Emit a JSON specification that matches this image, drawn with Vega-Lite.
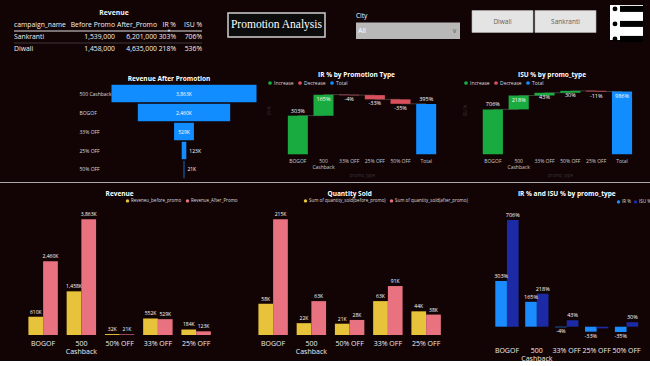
{
"$schema": "https://vega.github.io/schema/vega-lite/v6.json",
"background": "#120305",
"padding": 0,
"spacing": 0,
"resolve": {"scale": {"color": "independent", "xOffset": "independent"}, "legend": {"color": "independent"}},
"config": {
  "view": {"stroke": null},
  "font": "Open Sans",
  "concat": {"spacing": 0},
  "axis": {"grid": false},
  "title": {"color": "#ffffff", "fontSize": 6.5, "fontWeight": "bold", "font": "Open Sans"},
  "locale": {"number": {"decimal": ".", "thousands": ",", "grouping": [3], "currency": ["", "K"], "minus": "-"}}
},
"datasets": {
  "tbl": [
    {"campaign_name": "Sankranti", "before": 1539000, "after": 6201000, "ir": 3.03, "isu": 7.06},
    {"campaign_name": "Diwali", "before": 1458000, "after": 4635000, "ir": 2.18, "isu": 5.36}
  ],
  "funnel": [
    {"promo": "500 Cashback", "rev": 3863},
    {"promo": "BOGOF", "rev": 2460},
    {"promo": "33% OFF", "rev": 529},
    {"promo": "25% OFF", "rev": 123},
    {"promo": "50% OFF", "rev": 21}
  ],
  "irwf": [
    {"promo": "BOGOF", "start": 0, "end": 3.03, "amount": 3.03, "type": "Increase", "next": "500 Cashback"},
    {"promo": "500 Cashback", "start": 3.03, "end": 4.68, "amount": 1.65, "type": "Increase", "next": "33% OFF"},
    {"promo": "33% OFF", "start": 4.68, "end": 4.64, "amount": -0.04, "type": "Decrease", "next": "25% OFF"},
    {"promo": "25% OFF", "start": 4.64, "end": 4.31, "amount": -0.33, "type": "Decrease", "next": "50% OFF"},
    {"promo": "50% OFF", "start": 4.31, "end": 3.96, "amount": -0.35, "type": "Decrease", "next": "Total"},
    {"promo": "Total", "start": 0, "end": 3.95, "amount": 3.95, "type": "Total"}
  ],
  "isuwf": [
    {"promo": "BOGOF", "start": 0, "end": 7.06, "amount": 7.06, "type": "Increase", "next": "500 Cashback"},
    {"promo": "500 Cashback", "start": 7.06, "end": 9.24, "amount": 2.18, "type": "Increase", "next": "33% OFF"},
    {"promo": "33% OFF", "start": 9.24, "end": 9.67, "amount": 0.43, "type": "Increase", "next": "50% OFF"},
    {"promo": "50% OFF", "start": 9.67, "end": 9.97, "amount": 0.30, "type": "Increase", "next": "25% OFF"},
    {"promo": "25% OFF", "start": 9.97, "end": 9.86, "amount": -0.11, "type": "Decrease", "next": "Total"},
    {"promo": "Total", "start": 0, "end": 9.86, "amount": 9.86, "type": "Total"}
  ],
  "rev": [
    {"promo": "BOGOF", "series": "Reveneu_before_promo", "value": 610},
    {"promo": "BOGOF", "series": "Revenue_After_Promo", "value": 2460},
    {"promo": "500 Cashback", "series": "Reveneu_before_promo", "value": 1458},
    {"promo": "500 Cashback", "series": "Revenue_After_Promo", "value": 3863},
    {"promo": "50% OFF", "series": "Reveneu_before_promo", "value": 32},
    {"promo": "50% OFF", "series": "Revenue_After_Promo", "value": 21},
    {"promo": "33% OFF", "series": "Reveneu_before_promo", "value": 552},
    {"promo": "33% OFF", "series": "Revenue_After_Promo", "value": 529},
    {"promo": "25% OFF", "series": "Reveneu_before_promo", "value": 184},
    {"promo": "25% OFF", "series": "Revenue_After_Promo", "value": 123}
  ],
  "qty": [
    {"promo": "BOGOF", "series": "Sum of quantity_sold(before_promo)", "value": 58},
    {"promo": "BOGOF", "series": "Sum of quantity_sold(after_promo)", "value": 215},
    {"promo": "500 Cashback", "series": "Sum of quantity_sold(before_promo)", "value": 22},
    {"promo": "500 Cashback", "series": "Sum of quantity_sold(after_promo)", "value": 63},
    {"promo": "50% OFF", "series": "Sum of quantity_sold(before_promo)", "value": 21},
    {"promo": "50% OFF", "series": "Sum of quantity_sold(after_promo)", "value": 28},
    {"promo": "33% OFF", "series": "Sum of quantity_sold(before_promo)", "value": 63},
    {"promo": "33% OFF", "series": "Sum of quantity_sold(after_promo)", "value": 91},
    {"promo": "25% OFF", "series": "Sum of quantity_sold(before_promo)", "value": 44},
    {"promo": "25% OFF", "series": "Sum of quantity_sold(after_promo)", "value": 38}
  ],
  "pct": [
    {"promo": "BOGOF", "series": "IR %", "value": 3.03},
    {"promo": "BOGOF", "series": "ISU %", "value": 7.06},
    {"promo": "500 Cashback", "series": "IR %", "value": 1.65},
    {"promo": "500 Cashback", "series": "ISU %", "value": 2.18},
    {"promo": "33% OFF", "series": "IR %", "value": -0.04},
    {"promo": "33% OFF", "series": "ISU %", "value": 0.43},
    {"promo": "25% OFF", "series": "IR %", "value": -0.33},
    {"promo": "25% OFF", "series": "ISU %", "value": -0.11},
    {"promo": "50% OFF", "series": "IR %", "value": -0.35},
    {"promo": "50% OFF", "series": "ISU %", "value": 0.30}
  ],
  "icon": [{"i": 1}, {"i": 2}, {"i": 3}],
  "buttons": [{"name": "Diwali"}, {"name": "Sankranti"}]
},
"vconcat": [
  {
    "spacing": 0, "bounds": "flush",
    "hconcat": [
      {"width": 14, "height": 66, "data": {"values": []}, "mark": "point"},
      {
        "width": 54, "height": 66,
        "layer": [
          {"data": {"values": [{}]}, "mark": {"type": "text", "align": "left", "fontSize": 6.8, "color": "#f2f2f2"},
           "encoding": {"x": {"value": 0}, "y": {"datum": "header", "type": "nominal", "scale": {"type": "band", "domain": ["Revenue", "header", "Sankranti", "Diwali"], "paddingInner": 0, "paddingOuter": 0.75, "align": 0.389}, "axis": null}, "text": {"value": "campaign_name"}}},
          {"data": {"name": "tbl"}, "mark": {"type": "text", "align": "left", "fontSize": 6.8, "color": "#f2f2f2"},
           "encoding": {"x": {"value": 0}, "y": {"field": "campaign_name", "type": "nominal", "scale": {"type": "band", "domain": ["Revenue", "header", "Sankranti", "Diwali"], "paddingInner": 0, "paddingOuter": 0.75, "align": 0.389}, "axis": null}, "text": {"field": "campaign_name"}}},
          {"data": {"values": [{}]}, "mark": {"type": "rule", "color": "#e0e0e0", "strokeWidth": 1},
           "encoding": {"y": {"datum": "Sankranti", "bandPosition": 0, "type": "nominal", "scale": {"type": "band", "domain": ["Revenue", "header", "Sankranti", "Diwali"], "paddingInner": 0, "paddingOuter": 0.75, "align": 0.389}, "axis": null}}},
          {"data": {"values": [{}]}, "mark": {"type": "rule", "color": "#5a5a5a", "strokeWidth": 0.6},
           "encoding": {"y": {"datum": "Diwali", "bandPosition": 0, "type": "nominal", "scale": {"type": "band", "domain": ["Revenue", "header", "Sankranti", "Diwali"], "paddingInner": 0, "paddingOuter": 0.75, "align": 0.389}, "axis": null}}}
        ]
      },
      {
        "width": 47, "height": 66,
        "layer": [
          {"data": {"values": [{}]}, "mark": {"type": "text", "align": "center", "fontSize": 6.8, "fontWeight": "bold", "color": "#f2f2f2", "dx": -1},
           "encoding": {"x": {"value": "width"}, "y": {"datum": "Revenue", "type": "nominal", "scale": {"type": "band", "domain": ["Revenue", "header", "Sankranti", "Diwali"], "paddingInner": 0, "paddingOuter": 0.75, "align": 0.389}, "axis": null}, "text": {"value": "Revenue"}}},
          {"data": {"values": [{}]}, "mark": {"type": "text", "align": "right", "fontSize": 6.8, "color": "#f2f2f2"},
           "encoding": {"x": {"value": "width"}, "y": {"datum": "header", "type": "nominal", "scale": {"type": "band", "domain": ["Revenue", "header", "Sankranti", "Diwali"], "paddingInner": 0, "paddingOuter": 0.75, "align": 0.389}, "axis": null}, "text": {"value": "Before Promo"}}},
          {"data": {"name": "tbl"}, "mark": {"type": "text", "align": "right", "fontSize": 6.8, "color": "#f2f2f2"},
           "encoding": {"x": {"value": "width"}, "y": {"field": "campaign_name", "type": "nominal", "scale": {"type": "band", "domain": ["Revenue", "header", "Sankranti", "Diwali"], "paddingInner": 0, "paddingOuter": 0.75, "align": 0.389}, "axis": null}, "text": {"field": "before", "format": ",d"}}},
          {"data": {"values": [{}]}, "mark": {"type": "rule", "color": "#e0e0e0", "strokeWidth": 1},
           "encoding": {"y": {"datum": "Sankranti", "bandPosition": 0, "type": "nominal", "scale": {"type": "band", "domain": ["Revenue", "header", "Sankranti", "Diwali"], "paddingInner": 0, "paddingOuter": 0.75, "align": 0.389}, "axis": null}}},
          {"data": {"values": [{}]}, "mark": {"type": "rule", "color": "#5a5a5a", "strokeWidth": 0.6},
           "encoding": {"y": {"datum": "Diwali", "bandPosition": 0, "type": "nominal", "scale": {"type": "band", "domain": ["Revenue", "header", "Sankranti", "Diwali"], "paddingInner": 0, "paddingOuter": 0.75, "align": 0.389}, "axis": null}}}
        ]
      },
      {
        "width": 42, "height": 66,
        "layer": [
          {"data": {"values": [{}]}, "mark": {"type": "text", "align": "right", "fontSize": 6.8, "color": "#f2f2f2"},
           "encoding": {"x": {"value": "width"}, "y": {"datum": "header", "type": "nominal", "scale": {"type": "band", "domain": ["Revenue", "header", "Sankranti", "Diwali"], "paddingInner": 0, "paddingOuter": 0.75, "align": 0.389}, "axis": null}, "text": {"value": "After_Promo"}}},
          {"data": {"name": "tbl"}, "mark": {"type": "text", "align": "right", "fontSize": 6.8, "color": "#f2f2f2"},
           "encoding": {"x": {"value": "width"}, "y": {"field": "campaign_name", "type": "nominal", "scale": {"type": "band", "domain": ["Revenue", "header", "Sankranti", "Diwali"], "paddingInner": 0, "paddingOuter": 0.75, "align": 0.389}, "axis": null}, "text": {"field": "after", "format": ",d"}}},
          {"data": {"values": [{}]}, "mark": {"type": "rule", "color": "#e0e0e0", "strokeWidth": 1},
           "encoding": {"y": {"datum": "Sankranti", "bandPosition": 0, "type": "nominal", "scale": {"type": "band", "domain": ["Revenue", "header", "Sankranti", "Diwali"], "paddingInner": 0, "paddingOuter": 0.75, "align": 0.389}, "axis": null}}},
          {"data": {"values": [{}]}, "mark": {"type": "rule", "color": "#5a5a5a", "strokeWidth": 0.6},
           "encoding": {"y": {"datum": "Diwali", "bandPosition": 0, "type": "nominal", "scale": {"type": "band", "domain": ["Revenue", "header", "Sankranti", "Diwali"], "paddingInner": 0, "paddingOuter": 0.75, "align": 0.389}, "axis": null}}}
        ]
      },
      {
        "width": 19, "height": 66,
        "layer": [
          {"data": {"values": [{}]}, "mark": {"type": "text", "align": "right", "fontSize": 6.8, "color": "#f2f2f2"},
           "encoding": {"x": {"value": "width"}, "y": {"datum": "header", "type": "nominal", "scale": {"type": "band", "domain": ["Revenue", "header", "Sankranti", "Diwali"], "paddingInner": 0, "paddingOuter": 0.75, "align": 0.389}, "axis": null}, "text": {"value": "IR %"}}},
          {"data": {"values": [{}]}, "mark": {"type": "text", "align": "center", "fontSize": 4, "color": "#f2f2f2", "dy": 5.5, "dx": -7},
           "encoding": {"x": {"value": "width"}, "y": {"datum": "header", "type": "nominal", "scale": {"type": "band", "domain": ["Revenue", "header", "Sankranti", "Diwali"], "paddingInner": 0, "paddingOuter": 0.75, "align": 0.389}, "axis": null}, "text": {"value": "▼"}}},
          {"data": {"name": "tbl"}, "mark": {"type": "text", "align": "right", "fontSize": 6.8, "color": "#f2f2f2"},
           "encoding": {"x": {"value": "width"}, "y": {"field": "campaign_name", "type": "nominal", "scale": {"type": "band", "domain": ["Revenue", "header", "Sankranti", "Diwali"], "paddingInner": 0, "paddingOuter": 0.75, "align": 0.389}, "axis": null}, "text": {"field": "ir", "format": ".0%"}}},
          {"data": {"values": [{}]}, "mark": {"type": "rule", "color": "#e0e0e0", "strokeWidth": 1},
           "encoding": {"y": {"datum": "Sankranti", "bandPosition": 0, "type": "nominal", "scale": {"type": "band", "domain": ["Revenue", "header", "Sankranti", "Diwali"], "paddingInner": 0, "paddingOuter": 0.75, "align": 0.389}, "axis": null}}},
          {"data": {"values": [{}]}, "mark": {"type": "rule", "color": "#5a5a5a", "strokeWidth": 0.6},
           "encoding": {"y": {"datum": "Diwali", "bandPosition": 0, "type": "nominal", "scale": {"type": "band", "domain": ["Revenue", "header", "Sankranti", "Diwali"], "paddingInner": 0, "paddingOuter": 0.75, "align": 0.389}, "axis": null}}}
        ]
      },
      {
        "width": 26, "height": 66,
        "layer": [
          {"data": {"values": [{}]}, "mark": {"type": "text", "align": "right", "fontSize": 6.8, "color": "#f2f2f2"},
           "encoding": {"x": {"value": "width"}, "y": {"datum": "header", "type": "nominal", "scale": {"type": "band", "domain": ["Revenue", "header", "Sankranti", "Diwali"], "paddingInner": 0, "paddingOuter": 0.75, "align": 0.389}, "axis": null}, "text": {"value": "ISU %"}}},
          {"data": {"name": "tbl"}, "mark": {"type": "text", "align": "right", "fontSize": 6.8, "color": "#f2f2f2"},
           "encoding": {"x": {"value": "width"}, "y": {"field": "campaign_name", "type": "nominal", "scale": {"type": "band", "domain": ["Revenue", "header", "Sankranti", "Diwali"], "paddingInner": 0, "paddingOuter": 0.75, "align": 0.389}, "axis": null}, "text": {"field": "isu", "format": ".0%"}}},
          {"data": {"values": [{}]}, "mark": {"type": "rule", "color": "#e0e0e0", "strokeWidth": 1},
           "encoding": {"y": {"datum": "Sankranti", "bandPosition": 0, "type": "nominal", "scale": {"type": "band", "domain": ["Revenue", "header", "Sankranti", "Diwali"], "paddingInner": 0, "paddingOuter": 0.75, "align": 0.389}, "axis": null}}},
          {"data": {"values": [{}]}, "mark": {"type": "rule", "color": "#5a5a5a", "strokeWidth": 0.6},
           "encoding": {"y": {"datum": "Diwali", "bandPosition": 0, "type": "nominal", "scale": {"type": "band", "domain": ["Revenue", "header", "Sankranti", "Diwali"], "paddingInner": 0, "paddingOuter": 0.75, "align": 0.389}, "axis": null}}}
        ]
      },
      {"width": 26, "height": 66, "data": {"values": []}, "mark": "point"},
      {
        "width": 97, "height": 66,
        "data": {"values": [{}]},
        "encoding": {"y": {"datum": "box", "type": "nominal", "scale": {"type": "band", "domain": ["box"], "paddingInner": 0, "paddingOuter": 0.875, "align": 0.3095}, "axis": null}},
        "layer": [
          {"mark": {"type": "bar", "color": "#0c0c0c", "stroke": "#cfcfcf", "strokeWidth": 1.5}},
          {"mark": {"type": "text", "font": "Liberation Serif", "fontSize": 11.5, "color": "#ffffff"}, "encoding": {"text": {"value": "Promotion Analysis"}}}
        ]
      },
      {"width": 31, "height": 66, "data": {"values": []}, "mark": "point"},
      {
        "width": 104, "height": 66,
        "data": {"values": [{}]},
        "layer": [
          {"mark": {"type": "bar", "color": "#b8b8b8"},
           "encoding": {"y": {"datum": "dd", "type": "nominal", "scale": {"type": "band", "domain": ["City", "dd"], "paddingInner": 0, "paddingOuter": 1.357, "align": 0.184}, "axis": null}}},
          {"mark": {"type": "text", "align": "left", "fontSize": 6.5, "color": "#ffffff", "dy": 2},
           "encoding": {"x": {"value": 0}, "y": {"datum": "City", "type": "nominal"}, "text": {"value": "City"}}},
          {"mark": {"type": "text", "align": "left", "dx": 2, "fontSize": 7, "color": "#ffffff"},
           "encoding": {"x": {"value": 0}, "y": {"datum": "dd", "type": "nominal"}, "text": {"value": "All"}}},
          {"mark": {"type": "text", "align": "right", "dx": -3, "fontSize": 7, "color": "#6a6a6a"},
           "encoding": {"x": {"value": "width"}, "y": {"datum": "dd", "type": "nominal"}, "text": {"value": "∨"}}}
        ]
      },
      {"width": 12, "height": 66, "data": {"values": []}, "mark": "point"},
      {
        "width": 124, "height": 66,
        "data": {"name": "buttons"},
        "encoding": {
          "x": {"field": "name", "type": "nominal", "sort": null, "scale": {"type": "band", "paddingInner": 0.03, "paddingOuter": 0}, "axis": null},
          "y": {"datum": "btn", "type": "nominal", "scale": {"type": "band", "domain": ["btn"], "paddingInner": 0, "paddingOuter": 1.15, "align": 0.239}, "axis": null}
        },
        "layer": [
          {"mark": {"type": "bar", "color": "#e4e4e4", "stroke": "#b5b5b5", "strokeWidth": 0.6}},
          {"mark": {"type": "text", "fontSize": 6.5, "color": "#5c5c5c"}, "encoding": {"text": {"field": "name"}}}
        ]
      },
      {"width": 14, "height": 66, "data": {"values": []}, "mark": "point"},
      {
        "width": 10, "height": 66,
        "layer": [
          {"data": {"values": [{}]}, "mark": {"type": "bar", "color": "#ffffff"},
           "encoding": {"y": {"datum": "bg", "type": "nominal", "scale": {"type": "band", "domain": ["bg"], "paddingInner": 0, "paddingOuter": 0.443, "align": 0.161}, "axis": null}}},
          {"data": {"name": "icon"}, "mark": {"type": "point", "filled": true, "color": "#000000", "size": 24, "opacity": 1},
           "encoding": {"x": {"datum": "d", "type": "nominal", "axis": null}, "y": {"field": "i", "type": "ordinal", "scale": {"type": "band", "paddingInner": 0.6, "paddingOuter": 1.8, "align": 0.197}, "axis": null}}}
        ],
        "resolve": {"scale": {"y": "independent"}}
      },
      {
        "width": 23, "height": 66,
        "layer": [
          {"data": {"values": [{}]}, "mark": {"type": "bar", "color": "#ffffff"},
           "encoding": {"y": {"datum": "bg", "type": "nominal", "scale": {"type": "band", "domain": ["bg"], "paddingInner": 0, "paddingOuter": 0.443, "align": 0.161}, "axis": null}}},
          {"data": {"name": "icon"}, "mark": {"type": "bar", "color": "#000000"},
           "encoding": {"y": {"field": "i", "type": "ordinal", "scale": {"type": "band", "paddingInner": 0.6, "paddingOuter": 1.8, "align": 0.197}, "axis": null}}}
        ],
        "resolve": {"scale": {"y": "independent"}}
      }
    ]
  },
  {
    "spacing": 0, "bounds": "flush",
    "resolve": {"scale": {"color": "independent"}, "legend": {"color": "independent"}},
    "hconcat": [
      {"width": 106, "height": 116, "data": {"values": []}, "mark": "point"},
      {
        "width": 156, "height": 113,
        "title": {"text": "Revenue After Promotion", "dx": -15, "offset": -16},
        "data": {"name": "funnel"},
        "transform": [{"stack": "rev", "groupby": ["promo"], "offset": "center", "as": ["x0", "x1"]}],
        "encoding": {"y": {"field": "promo", "type": "nominal", "sort": null, "scale": {"paddingInner": 0.08, "paddingOuter": 0.514, "align": 0.961},
          "axis": {"title": null, "domain": false, "ticks": false, "labelAlign": "left", "labelPadding": 27, "labelFontSize": 5, "labelColor": "#dddddd"}}},
        "layer": [
          {"mark": {"type": "bar", "color": "#118dff"},
           "encoding": {"x": {"field": "x0", "type": "quantitative", "scale": {"domain": [-146, 4009], "nice": false, "zero": false}, "axis": null}, "x2": {"field": "x1"}}},
          {"transform": [{"filter": "datum.rev >= 300"}],
           "mark": {"type": "text", "color": "#ffffff", "fontSize": 5},
           "encoding": {"x": {"datum": 1931.5, "type": "quantitative"}, "text": {"field": "rev", "format": "$,.0f"}}},
          {"transform": [{"filter": "datum.rev < 300"}],
           "mark": {"type": "text", "color": "#ffffff", "fontSize": 5, "align": "left", "dx": 3},
           "encoding": {"x": {"field": "x1", "type": "quantitative"}, "text": {"field": "rev", "format": "$,.0f"}}}
        ]
      },
      {
        "width": 177, "height": 88.3,
        "title": {"text": "IR % by Promotion Type", "dx": 6, "offset": -12},
        "data": {"name": "irwf"},
        "encoding": {"x": {"field": "promo", "type": "nominal", "sort": null, "scale": {"paddingInner": 0.22, "paddingOuter": 0.5576, "align": 0.902},
          "axis": {"title": "promo_type", "titleColor": "#3a3a3a", "titleFontSize": 4.5, "titleFontWeight": "normal", "titlePadding": 3, "titleX": 100, "domain": false, "ticks": false, "labelAngle": 0, "labelFontSize": 5, "labelColor": "#cccccc", "labelPadding": 4, "labelLineHeight": 6,
            "labelExpr": "datum.label == '500 Cashback' ? ['500', 'Cashback'] : datum.label"}}},
        "layer": [
          {"transform": [{"filter": "isValid(datum.next)"}],
           "mark": {"type": "rule", "color": "#555555", "strokeWidth": 0.7},
           "encoding": {"x2": {"field": "next"}, "y": {"field": "end", "type": "quantitative"}}},
          {"mark": {"type": "bar"},
           "encoding": {
             "y": {"field": "start", "type": "quantitative", "scale": {"domain": [0, 6.925], "nice": false},
               "axis": {"title": "IR %", "labels": false, "ticks": false, "domain": false, "titleColor": "#3a3a3a", "titleFontSize": 4.5, "titleFontWeight": "normal", "titlePadding": -9}},
             "y2": {"field": "end"},
             "color": {"field": "type", "type": "nominal", "scale": {"domain": ["Increase", "Decrease", "Total"], "range": ["#1aab40", "#d9505c", "#118dff"]},
               "legend": {"title": null, "orient": "none", "legendX": 5, "legendY": 14, "direction": "horizontal", "symbolType": "circle", "symbolSize": 14, "labelFontSize": 5, "labelColor": "#dddddd", "columnPadding": 3, "labelOffset": 1}}}},
          {"transform": [{"filter": "datum.promo == 'BOGOF' || datum.promo == 'Total'"}],
           "mark": {"type": "text", "color": "#ffffff", "fontSize": 5.5, "baseline": "bottom", "dy": -2},
           "encoding": {"y": {"field": "end", "type": "quantitative"}, "text": {"field": "amount", "format": ".0%"}}},
          {"transform": [{"filter": "datum.promo != 'BOGOF' && datum.promo != 'Total'"}],
           "mark": {"type": "text", "color": "#ffffff", "fontSize": 5.5, "baseline": "top", "dy": 2},
           "encoding": {"y": {"field": "end", "type": "quantitative"}, "text": {"field": "amount", "format": ".0%"}}}
        ]
      },
      {"width": 16, "height": 88, "data": {"values": []}, "mark": "point"},
      {
        "width": 180, "height": 88.3,
        "title": {"text": "ISU % by promo_type", "dx": 7, "offset": -12},
        "data": {"name": "isuwf"},
        "encoding": {"x": {"field": "promo", "type": "nominal", "sort": null, "scale": {"paddingInner": 0.22, "paddingOuter": 0.594, "align": 0.905},
          "axis": {"title": "promo_type", "titleColor": "#3a3a3a", "titleFontSize": 4.5, "titleFontWeight": "normal", "titlePadding": 3, "titleX": 105, "domain": false, "ticks": false, "labelAngle": 0, "labelFontSize": 5, "labelColor": "#cccccc", "labelPadding": 4, "labelLineHeight": 6,
            "labelExpr": "datum.label == '500 Cashback' ? ['500', 'Cashback'] : datum.label"}}},
        "layer": [
          {"transform": [{"filter": "isValid(datum.next)"}],
           "mark": {"type": "rule", "color": "#555555", "strokeWidth": 0.7},
           "encoding": {"x2": {"field": "next"}, "y": {"field": "end", "type": "quantitative"}}},
          {"mark": {"type": "bar"},
           "encoding": {
             "y": {"field": "start", "type": "quantitative", "scale": {"domain": [0, 13.88], "nice": false},
               "axis": {"title": "ISU %", "labels": false, "ticks": false, "domain": false, "titleColor": "#3a3a3a", "titleFontSize": 4.5, "titleFontWeight": "normal", "titlePadding": -12}},
             "y2": {"field": "end"},
             "color": {"field": "type", "type": "nominal", "scale": {"domain": ["Increase", "Decrease", "Total"], "range": ["#1aab40", "#d9505c", "#118dff"]},
               "legend": {"title": null, "orient": "none", "legendX": 8, "legendY": 14, "direction": "horizontal", "symbolType": "circle", "symbolSize": 14, "labelFontSize": 5, "labelColor": "#dddddd", "columnPadding": 3, "labelOffset": 1}}}},
          {"transform": [{"filter": "datum.promo == 'BOGOF'"}],
           "mark": {"type": "text", "color": "#ffffff", "fontSize": 5.5, "baseline": "bottom", "dy": -2},
           "encoding": {"y": {"field": "end", "type": "quantitative"}, "text": {"field": "amount", "format": ".0%"}}},
          {"transform": [{"filter": "datum.promo != 'BOGOF'"}],
           "mark": {"type": "text", "color": "#ffffff", "fontSize": 5.5, "baseline": "top", "dy": 2},
           "encoding": {"y": {"field": "end", "type": "quantitative"}, "text": {"field": "amount", "format": ".0%"}}}
        ]
      }
    ]
  },
  {"width": 650, "height": 1, "view": {"fill": "#a8a8a8"}, "data": {"values": []}, "mark": "point"},
  {
    "spacing": 0, "bounds": "flush",
    "resolve": {"scale": {"color": "independent", "xOffset": "independent"}, "legend": {"color": "independent"}},
    "hconcat": [
      {"width": 24, "height": 159, "data": {"values": []}, "mark": "point"},
      {
        "width": 191.25, "height": 152,
        "title": {"text": "Revenue", "offset": -14},
        "data": {"name": "rev"},
        "encoding": {
          "x": {"field": "promo", "type": "nominal", "sort": ["BOGOF", "500 Cashback", "50% OFF", "33% OFF", "25% OFF"], "scale": {"type": "band", "paddingInner": 0.23, "paddingOuter": 0.115},
            "axis": {"title": null, "domain": false, "ticks": false, "labelAngle": 0, "labelFontSize": 7, "labelColor": "#eeeeee", "labelPadding": 4, "labelLineHeight": 8,
              "labelExpr": "datum.label == '500 Cashback' ? ['500', 'Cashback'] : datum.label"}},
          "xOffset": {"field": "series", "type": "nominal", "sort": ["Reveneu_before_promo", "Revenue_After_Promo"], "scale": {"type": "band", "paddingInner": 0, "paddingOuter": 0}},
          "y": {"field": "value", "type": "quantitative", "stack": null, "scale": {"domain": [0, 5075], "nice": false}, "axis": null}
        },
        "layer": [
          {"mark": {"type": "bar"},
           "encoding": {"color": {"field": "series", "type": "nominal", "sort": ["Reveneu_before_promo", "Revenue_After_Promo"], "scale": {"range": ["#e6c33a", "#e8727f"]},
             "legend": {"title": null, "orient": "none", "legendX": 101, "legendY": 15, "direction": "horizontal", "symbolType": "circle", "symbolSize": 12, "labelFontSize": 4.5, "labelColor": "#dddddd", "columnPadding": 3, "labelOffset": 1}}}},
          {"mark": {"type": "text", "color": "#ffffff", "fontSize": 5, "baseline": "bottom", "dy": -2},
           "encoding": {"text": {"field": "value", "format": "$,.0f"}}}
        ]
      },
      {"width": 37.65, "height": 152, "data": {"values": []}, "mark": "point"},
      {
        "width": 191.25, "height": 152,
        "title": {"text": "Quantity Sold", "offset": -14},
        "data": {"name": "qty"},
        "encoding": {
          "x": {"field": "promo", "type": "nominal", "sort": ["BOGOF", "500 Cashback", "50% OFF", "33% OFF", "25% OFF"], "scale": {"type": "band", "paddingInner": 0.23, "paddingOuter": 0.115},
            "axis": {"title": null, "domain": false, "ticks": false, "labelAngle": 0, "labelFontSize": 7, "labelColor": "#eeeeee", "labelPadding": 4, "labelLineHeight": 8,
              "labelExpr": "datum.label == '500 Cashback' ? ['500', 'Cashback'] : datum.label"}},
          "xOffset": {"field": "series", "type": "nominal", "sort": ["Sum of quantity_sold(before_promo)", "Sum of quantity_sold(after_promo)"], "scale": {"type": "band", "paddingInner": 0, "paddingOuter": 0}},
          "y": {"field": "value", "type": "quantitative", "stack": null, "scale": {"domain": [0, 282.5], "nice": false}, "axis": null}
        },
        "layer": [
          {"mark": {"type": "bar"},
           "encoding": {"color": {"field": "series", "type": "nominal", "sort": ["Sum of quantity_sold(before_promo)", "Sum of quantity_sold(after_promo)"], "scale": {"range": ["#e6c33a", "#e8727f"]},
             "legend": {"title": null, "orient": "none", "legendX": 49, "legendY": 15, "direction": "horizontal", "symbolType": "circle", "symbolSize": 12, "labelFontSize": 4.5, "labelColor": "#dddddd", "columnPadding": 3, "labelOffset": 1, "labelLimit": 200}}}},
          {"mark": {"type": "text", "color": "#ffffff", "fontSize": 5, "baseline": "bottom", "dy": -2},
           "encoding": {"text": {"field": "value", "format": "$,.0f"}}}
        ]
      },
      {"width": 45.15, "height": 152, "data": {"values": []}, "mark": "point"},
      {
        "width": 149.5, "height": 159,
        "title": {"text": "IR % and ISU % by promo_type", "offset": -14},
        "data": {"name": "pct"},
        "encoding": {
          "x": {"field": "promo", "type": "nominal", "sort": ["BOGOF", "500 Cashback", "33% OFF", "25% OFF", "50% OFF"], "scale": {"type": "band", "paddingInner": 0.22, "paddingOuter": 0.11},
            "axis": {"title": null, "domain": false, "ticks": false, "labelAngle": 0, "labelFontSize": 7, "labelColor": "#eeeeee", "labelPadding": 4, "labelLineHeight": 8,
              "labelExpr": "datum.label == '500 Cashback' ? ['500', 'Cashback'] : datum.label"}},
          "xOffset": {"field": "series", "type": "nominal", "sort": ["IR %", "ISU %"], "scale": {"type": "band", "paddingInner": 0, "paddingOuter": 0}},
          "y": {"field": "value", "type": "quantitative", "stack": null, "scale": {"domain": [-1.013, 9.517], "nice": false}, "axis": null}
        },
        "layer": [
          {"mark": {"type": "bar"},
           "encoding": {"color": {"field": "series", "type": "nominal", "sort": ["IR %", "ISU %"], "scale": {"range": ["#1a8cff", "#1c2aa6"]},
             "legend": {"title": null, "orient": "none", "legendX": 124, "legendY": 16, "direction": "horizontal", "symbolType": "circle", "symbolSize": 12, "labelFontSize": 4.5, "labelColor": "#dddddd", "columnPadding": 2, "labelOffset": 1}}}},
          {"transform": [{"filter": "datum.value >= 0"}],
           "mark": {"type": "text", "color": "#ffffff", "fontSize": 5.5, "baseline": "bottom", "dy": -2},
           "encoding": {"text": {"field": "value", "format": ".0%"}}},
          {"transform": [{"filter": "datum.value < 0 && datum.series == 'IR %'"}],
           "mark": {"type": "text", "color": "#ffffff", "fontSize": 5.5, "baseline": "top", "dy": 2},
           "encoding": {"text": {"field": "value", "format": ".0%"}}}
        ]
      }
    ]
  }
]
}
